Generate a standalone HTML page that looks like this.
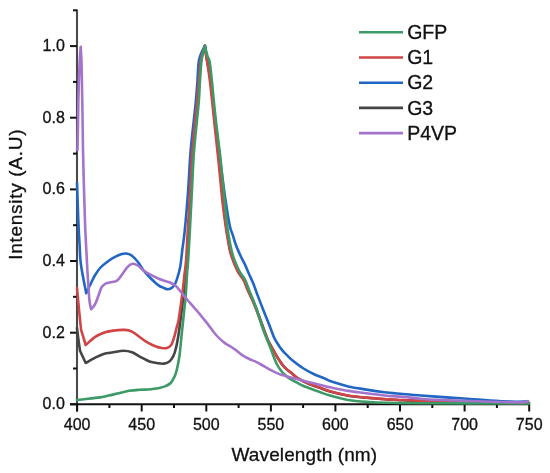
<!DOCTYPE html>
<html><head><meta charset="utf-8"><style>
html,body{margin:0;padding:0;background:#fff;}
svg{display:block;}
text{font-family:"Liberation Sans",Arial,sans-serif;fill:#111;stroke:#111;stroke-width:0.3px;}
.tk{font-size:16px;}
.lb{font-size:19px;}
.lg{font-size:19.5px;}
</style></head><body>
<svg width="550" height="473" viewBox="0 0 550 473">
<rect width="550" height="473" fill="#fff"/>
<line x1="77" y1="9.5" x2="77" y2="411.5" stroke="#4a4a4a" stroke-width="2.1"/>
<line x1="70" y1="404.2" x2="530" y2="404.2" stroke="#111" stroke-width="2"/>
<line x1="70" y1="404.3" x2="77" y2="404.3" stroke="#111" stroke-width="2"/>
<line x1="73" y1="368.5" x2="77" y2="368.5" stroke="#111" stroke-width="2"/>
<line x1="70" y1="332.7" x2="77" y2="332.7" stroke="#111" stroke-width="2"/>
<line x1="73" y1="296.8" x2="77" y2="296.8" stroke="#111" stroke-width="2"/>
<line x1="70" y1="261.0" x2="77" y2="261.0" stroke="#111" stroke-width="2"/>
<line x1="73" y1="225.2" x2="77" y2="225.2" stroke="#111" stroke-width="2"/>
<line x1="70" y1="189.4" x2="77" y2="189.4" stroke="#111" stroke-width="2"/>
<line x1="73" y1="153.6" x2="77" y2="153.6" stroke="#111" stroke-width="2"/>
<line x1="70" y1="117.7" x2="77" y2="117.7" stroke="#111" stroke-width="2"/>
<line x1="73" y1="81.9" x2="77" y2="81.9" stroke="#111" stroke-width="2"/>
<line x1="70" y1="46.1" x2="77" y2="46.1" stroke="#111" stroke-width="2"/>
<line x1="73" y1="10.3" x2="77" y2="10.3" stroke="#111" stroke-width="2"/>
<line x1="77.1" y1="404" x2="77.1" y2="411.5" stroke="#111" stroke-width="2"/>
<line x1="109.4" y1="404" x2="109.4" y2="408" stroke="#111" stroke-width="2"/>
<line x1="141.7" y1="404" x2="141.7" y2="411.5" stroke="#111" stroke-width="2"/>
<line x1="174.0" y1="404" x2="174.0" y2="408" stroke="#111" stroke-width="2"/>
<line x1="206.3" y1="404" x2="206.3" y2="411.5" stroke="#111" stroke-width="2"/>
<line x1="238.6" y1="404" x2="238.6" y2="408" stroke="#111" stroke-width="2"/>
<line x1="270.9" y1="404" x2="270.9" y2="411.5" stroke="#111" stroke-width="2"/>
<line x1="303.1" y1="404" x2="303.1" y2="408" stroke="#111" stroke-width="2"/>
<line x1="335.4" y1="404" x2="335.4" y2="411.5" stroke="#111" stroke-width="2"/>
<line x1="367.7" y1="404" x2="367.7" y2="408" stroke="#111" stroke-width="2"/>
<line x1="400.0" y1="404" x2="400.0" y2="411.5" stroke="#111" stroke-width="2"/>
<line x1="432.3" y1="404" x2="432.3" y2="408" stroke="#111" stroke-width="2"/>
<line x1="464.6" y1="404" x2="464.6" y2="411.5" stroke="#111" stroke-width="2"/>
<line x1="496.9" y1="404" x2="496.9" y2="408" stroke="#111" stroke-width="2"/>
<line x1="529.2" y1="404" x2="529.2" y2="411.5" stroke="#111" stroke-width="2"/>
<path d="M77.0,328.0 C77.2,330.0 78.0,336.2 78.5,340.0 C79.0,343.8 79.8,349.2 80.1,351.0 C81.0,353.0 84.8,361.0 85.7,363.0 C87.3,362.1 92.2,359.1 95.2,357.6 C98.2,356.1 100.6,354.8 103.6,353.9 C106.6,353.0 109.9,352.8 113.2,352.3 C116.5,351.8 120.2,350.8 123.3,350.8 C126.4,350.8 129.1,351.2 132.0,352.3 C134.9,353.4 137.8,355.6 140.7,357.1 C143.6,358.6 146.6,360.5 149.5,361.5 C152.4,362.5 155.8,362.9 158.2,363.3 C160.6,363.7 162.1,363.9 164.0,363.6 C165.9,363.3 167.9,362.6 169.4,361.4 C170.9,360.2 172.1,358.4 173.2,356.3 C174.3,354.2 175.0,352.1 175.8,348.7 C176.7,345.3 177.5,340.8 178.3,336.0 C179.1,331.2 179.7,326.0 180.5,320.0 C181.3,314.0 182.4,305.0 183.0,300.0 C183.6,295.0 183.9,294.0 184.3,290.0 C184.7,286.0 185.1,281.0 185.6,276.0 C186.1,271.0 186.7,267.3 187.2,260.0 C187.7,252.7 188.2,243.5 188.8,232.0 C189.4,220.5 190.3,204.7 191.0,191.0 C191.7,177.3 192.1,164.3 193.2,150.0 C194.3,135.7 196.6,116.3 197.6,105.0 C198.6,93.7 198.6,89.5 199.2,82.0 C199.8,74.5 200.2,66.0 201.2,60.0 C202.1,54.0 204.3,48.2 204.9,45.8 C205.2,47.8 205.9,52.3 206.8,58.0 C207.7,63.7 209.2,69.7 210.5,80.0 C211.8,90.3 213.4,106.7 214.8,120.0 C216.2,133.3 217.8,146.7 219.2,160.0 C220.6,173.3 221.9,189.2 223.0,200.0 C224.1,210.8 225.2,218.7 226.0,225.0 C226.8,231.3 227.3,233.5 228.0,237.7 C228.7,241.9 229.4,246.6 230.3,250.4 C231.2,254.2 232.1,257.0 233.5,260.6 C234.9,264.2 236.8,268.8 238.5,272.0 C240.2,275.2 242.2,277.0 243.8,280.0 C245.4,283.0 246.4,286.7 247.9,290.0 C249.4,293.3 251.1,296.7 252.6,300.0 C254.1,303.3 255.4,306.7 256.7,310.0 C258.0,313.3 259.3,316.7 260.5,320.0 C261.7,323.3 262.9,326.7 264.1,330.0 C265.3,333.3 266.4,336.8 267.9,340.0 C269.4,343.2 271.3,346.3 273.0,349.4 C274.7,352.4 276.1,355.3 278.0,358.3 C279.9,361.3 282.1,364.7 284.4,367.2 C286.7,369.7 289.7,371.6 292.0,373.5 C294.3,375.4 295.6,376.9 298.3,378.6 C301.0,380.3 304.6,382.0 308.0,383.5 C311.4,385.0 315.3,386.3 319.0,387.6 C322.7,388.9 325.1,390.1 330.0,391.5 C334.9,392.9 342.1,394.6 348.2,395.7 C354.3,396.8 360.3,397.2 366.4,397.8 C372.4,398.4 378.4,398.9 384.5,399.3 C390.6,399.7 396.6,399.9 402.7,400.2 C408.8,400.5 409.7,400.6 420.9,401.0 C432.1,401.4 452.0,402.0 470.0,402.4 C488.0,402.8 519.2,403.0 529.0,403.1" fill="none" stroke="#454545" stroke-width="2.6" stroke-linejoin="round" stroke-linecap="round"/>
<path d="M77.0,183.0 C77.2,189.2 77.9,209.7 78.3,220.0 C78.7,230.3 79.1,237.5 79.6,245.0 C80.0,252.5 79.9,257.0 81.0,265.0 C82.1,273.0 85.3,288.5 86.2,293.2 C86.9,291.7 89.1,287.0 90.6,284.0 C92.1,281.0 93.3,277.9 95.0,275.2 C96.7,272.4 98.5,269.7 100.5,267.5 C102.5,265.3 104.7,263.7 107.0,262.0 C109.3,260.3 112.0,258.5 114.5,257.2 C117.0,255.9 119.8,254.7 121.8,254.1 C123.8,253.5 124.6,253.3 126.2,253.5 C127.8,253.7 129.4,253.9 131.3,255.3 C133.2,256.7 135.8,259.3 137.8,261.8 C139.9,264.3 141.4,267.7 143.6,270.5 C145.8,273.3 148.5,276.1 150.9,278.5 C153.3,280.9 156.0,283.5 158.2,285.1 C160.4,286.7 162.3,287.3 164.0,288.0 C165.7,288.7 166.8,289.4 168.2,289.3 C169.6,289.2 171.3,288.2 172.5,287.2 C173.7,286.1 174.7,284.7 175.5,283.0 C176.3,281.3 176.8,279.7 177.6,277.0 C178.4,274.3 179.4,271.5 180.2,267.0 C181.0,262.5 181.6,255.8 182.3,250.0 C183.0,244.2 183.6,241.8 184.6,232.0 C185.6,222.2 187.1,204.7 188.1,191.0 C189.1,177.3 189.5,164.3 190.7,150.0 C191.9,135.7 194.4,116.3 195.5,105.0 C196.6,93.7 196.8,89.5 197.4,82.0 C198.0,74.5 197.9,65.8 199.1,59.8 C200.3,53.8 203.9,48.1 204.8,45.8 C205.1,47.5 205.4,50.3 206.3,56.0 C207.2,61.7 209.0,69.3 210.5,80.0 C212.0,90.7 213.6,106.7 215.2,120.0 C216.8,133.3 218.5,146.7 220.2,160.0 C221.9,173.3 223.9,189.2 225.5,200.0 C227.1,210.8 228.4,219.1 229.6,225.0 C230.8,230.9 231.7,231.8 232.8,235.2 C233.9,238.6 234.7,241.9 236.0,245.3 C237.3,248.7 238.9,252.3 240.4,255.5 C241.9,258.7 243.5,261.4 244.9,264.4 C246.3,267.4 247.3,270.1 248.7,273.3 C250.1,276.5 251.7,279.6 253.3,283.6 C254.9,287.6 256.6,292.6 258.3,297.1 C260.0,301.6 261.8,306.2 263.6,310.7 C265.4,315.2 267.2,319.7 269.0,324.2 C270.8,328.7 272.7,334.4 274.2,337.8 C275.7,341.2 277.1,342.8 278.2,344.5 C279.2,346.2 279.5,346.7 280.5,348.0 C281.5,349.3 282.8,351.0 284.1,352.4 C285.4,353.8 287.0,355.2 288.4,356.6 C289.8,358.0 290.2,358.7 292.6,360.6 C295.0,362.5 299.2,365.8 302.7,368.0 C306.2,370.2 310.0,372.3 313.6,374.0 C317.2,375.7 321.8,377.2 324.5,378.4 C327.2,379.6 326.1,379.7 330.0,381.0 C333.9,382.3 342.1,385.0 348.2,386.4 C354.3,387.8 360.3,388.6 366.4,389.6 C372.4,390.6 378.4,391.5 384.5,392.2 C390.6,392.9 396.6,393.4 402.7,394.0 C408.8,394.6 413.0,394.9 420.9,395.5 C428.8,396.1 441.8,397.0 450.0,397.6 C458.2,398.2 463.3,398.5 470.0,399.0 C476.7,399.5 483.3,400.2 490.0,400.6 C496.7,401.0 503.7,401.4 510.0,401.6 C516.3,401.8 525.0,401.6 528.0,401.6" fill="none" stroke="#2266c4" stroke-width="2.6" stroke-linejoin="round" stroke-linecap="round"/>
<path d="M77.0,288.0 C77.3,291.8 78.4,303.5 79.1,310.5 C79.8,317.5 80.8,326.6 81.1,329.8 C81.9,332.3 84.9,342.5 85.7,345.0 C87.3,343.6 92.2,338.9 95.2,336.9 C98.2,334.8 100.6,333.8 103.6,332.7 C106.6,331.6 109.7,331.1 113.2,330.6 C116.7,330.1 121.6,329.7 124.7,329.9 C127.8,330.1 129.6,330.5 132.0,331.6 C134.4,332.7 136.9,335.0 139.3,336.7 C141.7,338.4 143.8,340.2 146.5,341.8 C149.2,343.4 152.8,345.2 155.3,346.2 C157.9,347.2 159.9,347.7 161.8,348.0 C163.7,348.3 165.3,348.5 166.9,348.0 C168.5,347.5 170.0,346.9 171.3,344.9 C172.6,342.9 173.6,338.8 174.5,336.0 C175.4,333.2 175.8,330.7 176.5,328.0 C177.2,325.3 177.8,324.7 178.6,320.0 C179.4,315.3 180.8,305.0 181.5,300.0 C182.2,295.0 182.3,294.0 182.8,290.0 C183.3,286.0 183.8,281.0 184.3,276.0 C184.9,271.0 185.5,267.3 186.1,260.0 C186.7,252.7 187.0,243.5 187.7,232.0 C188.4,220.5 189.3,204.7 190.1,191.0 C190.9,177.3 191.3,164.3 192.4,150.0 C193.5,135.7 195.8,116.3 196.8,105.0 C197.9,93.7 198.0,89.5 198.7,82.0 C199.4,74.5 199.8,66.0 200.8,60.0 C201.8,54.0 204.2,48.2 204.9,45.8 C205.2,47.8 205.7,52.3 206.5,58.0 C207.3,63.7 208.5,69.7 209.8,80.0 C211.1,90.3 212.7,106.7 214.1,120.0 C215.5,133.3 217.0,146.7 218.4,160.0 C219.8,173.3 221.1,189.2 222.3,200.0 C223.5,210.8 224.6,218.7 225.5,225.0 C226.4,231.3 226.8,233.5 227.5,237.7 C228.2,241.9 228.9,246.6 229.8,250.4 C230.7,254.2 231.6,257.0 233.0,260.6 C234.4,264.2 236.2,268.8 238.0,272.0 C239.8,275.2 241.9,277.0 243.5,280.0 C245.1,283.0 246.1,286.7 247.6,290.0 C249.1,293.3 250.8,296.7 252.3,300.0 C253.8,303.3 255.1,306.7 256.4,310.0 C257.7,313.3 259.0,316.7 260.2,320.0 C261.4,323.3 262.6,326.7 263.8,330.0 C265.0,333.3 266.1,336.8 267.6,340.0 C269.1,343.2 271.0,346.2 272.7,349.2 C274.4,352.2 275.9,355.1 277.8,358.0 C279.7,360.9 281.9,364.4 284.2,366.9 C286.5,369.4 289.5,371.3 291.8,373.2 C294.1,375.1 295.4,376.6 298.1,378.3 C300.8,380.0 304.7,381.7 308.2,383.2 C311.7,384.7 315.5,386.0 319.1,387.3 C322.7,388.6 325.1,389.8 330.0,391.2 C334.9,392.6 342.1,394.4 348.2,395.5 C354.3,396.6 360.3,397.0 366.4,397.6 C372.4,398.2 378.4,398.7 384.5,399.1 C390.6,399.5 396.6,399.7 402.7,400.0 C408.8,400.3 409.7,400.5 420.9,400.9 C432.1,401.3 452.0,401.9 470.0,402.3 C488.0,402.7 519.2,402.9 529.0,403.0" fill="none" stroke="#d04545" stroke-width="2.6" stroke-linejoin="round" stroke-linecap="round"/>
<path d="M77.0,400.0 C78.8,399.8 84.2,399.2 88.0,398.8 C91.8,398.4 96.5,397.9 100.0,397.4 C103.5,396.9 105.8,396.2 108.7,395.6 C111.6,395.0 114.1,394.3 117.5,393.5 C120.9,392.7 125.5,391.4 129.1,390.8 C132.7,390.2 136.2,390.0 139.3,389.8 C142.5,389.6 145.6,389.7 148.0,389.5 C150.4,389.3 152.1,389.1 154.0,388.8 C155.9,388.6 157.4,388.4 159.3,388.0 C161.2,387.6 163.7,386.9 165.6,386.1 C167.5,385.3 169.2,384.6 170.7,383.0 C172.2,381.4 173.4,378.9 174.5,376.6 C175.6,374.3 176.2,372.6 177.0,369.0 C177.8,365.4 178.8,360.5 179.6,355.0 C180.3,349.5 180.9,341.8 181.5,336.0 C182.1,330.2 182.6,326.0 183.2,320.0 C183.8,314.0 184.8,305.0 185.3,300.0 C185.8,295.0 185.8,294.0 186.1,290.0 C186.4,286.0 186.6,281.0 186.9,276.0 C187.2,271.0 187.7,267.7 188.2,260.0 C188.7,252.3 189.3,241.5 189.9,230.0 C190.5,218.5 191.2,204.3 191.9,191.0 C192.6,177.7 193.0,164.3 194.1,150.0 C195.2,135.7 197.5,116.3 198.5,105.0 C199.5,93.7 199.4,89.5 199.9,82.0 C200.4,74.5 200.8,65.9 201.6,59.8 C202.4,53.7 204.3,48.0 204.9,45.6 C205.3,47.3 206.7,53.3 207.5,56.0 C208.3,58.7 209.0,58.0 209.7,62.0 C210.4,66.0 210.8,70.3 211.8,80.0 C212.8,89.7 214.3,106.7 215.8,120.0 C217.3,133.3 219.2,146.7 220.6,160.0 C222.0,173.3 223.4,189.2 224.5,200.0 C225.6,210.8 226.3,218.7 227.1,225.0 C227.8,231.3 228.3,233.5 229.0,237.7 C229.7,241.9 230.6,246.6 231.5,250.4 C232.4,254.2 233.3,257.0 234.7,260.6 C236.1,264.2 238.1,268.8 239.8,272.0 C241.6,275.2 243.7,277.0 245.2,280.0 C246.7,283.0 247.7,286.7 249.0,290.0 C250.3,293.3 251.9,296.7 253.2,300.0 C254.5,303.3 255.8,306.7 256.9,310.0 C258.0,313.3 258.9,316.7 260.0,320.0 C261.1,323.3 262.2,326.8 263.4,330.0 C264.5,333.2 265.6,335.8 266.9,339.0 C268.1,342.2 269.8,346.1 270.9,349.0 C272.0,351.9 272.5,353.8 273.6,356.5 C274.7,359.2 276.0,362.6 277.3,365.0 C278.6,367.4 279.9,369.2 281.3,371.0 C282.7,372.8 284.2,374.1 285.7,375.5 C287.2,376.9 288.8,378.1 290.5,379.2 C292.2,380.3 293.8,381.1 296.0,382.2 C298.2,383.3 301.5,385.1 303.5,386.0 C305.5,386.9 305.6,386.7 308.2,387.7 C310.8,388.7 315.5,390.5 319.1,391.8 C322.7,393.1 325.1,394.2 330.0,395.6 C334.9,397.0 342.1,399.0 348.2,400.0 C354.3,401.0 360.3,401.4 366.4,401.8 C372.4,402.2 375.6,402.5 384.5,402.7 C393.4,402.9 395.9,403.1 420.0,403.2 C444.1,403.3 510.8,403.4 529.0,403.4" fill="none" stroke="#3b9a66" stroke-width="2.6" stroke-linejoin="round" stroke-linecap="round"/>
<path d="M77.5,150.0 C77.6,145.8 77.8,134.2 78.0,125.0 C78.2,115.8 78.2,105.0 78.5,95.0 C78.8,85.0 79.1,73.0 79.5,65.0 C79.9,57.0 80.5,49.8 80.7,46.8 C80.8,49.3 81.3,56.5 81.5,62.0 C81.7,67.5 81.7,71.2 81.9,80.0 C82.1,88.8 82.3,103.3 82.5,115.0 C82.7,126.7 82.7,135.8 83.0,150.0 C83.3,164.2 83.9,186.7 84.3,200.0 C84.7,213.3 84.9,220.8 85.3,230.0 C85.7,239.2 86.1,246.7 86.6,255.0 C87.0,263.3 87.5,272.5 88.0,280.0 C88.5,287.5 88.9,295.1 89.4,300.0 C89.9,304.9 90.8,307.8 91.1,309.3 C91.8,308.5 93.8,306.5 95.0,304.3 C96.2,302.1 97.2,298.9 98.3,296.1 C99.4,293.3 100.3,289.4 101.6,287.3 C102.9,285.2 104.5,284.2 106.0,283.4 C107.5,282.6 108.6,282.8 110.4,282.3 C112.2,281.9 115.1,281.9 117.0,280.7 C118.9,279.5 120.0,277.2 121.8,274.9 C123.6,272.6 125.8,268.8 127.6,266.9 C129.4,265.0 131.0,263.9 132.7,263.7 C134.4,263.5 136.0,264.4 137.8,265.5 C139.6,266.6 141.4,268.9 143.6,270.5 C145.8,272.1 148.5,273.6 150.9,274.9 C153.3,276.2 156.0,277.5 158.2,278.5 C160.4,279.5 162.0,280.0 164.0,280.7 C166.0,281.4 168.1,281.6 170.0,282.5 C171.9,283.4 173.9,284.4 175.6,285.8 C177.3,287.2 178.8,289.4 180.0,290.8 C181.2,292.2 180.8,292.0 182.7,294.2 C184.5,296.4 188.3,300.9 191.1,304.2 C193.9,307.5 196.8,310.4 199.6,313.8 C202.4,317.2 205.2,320.8 208.0,324.4 C210.8,328.0 213.7,332.4 216.5,335.5 C219.3,338.6 222.1,341.0 224.9,343.1 C227.7,345.2 230.6,346.4 233.4,348.4 C236.2,350.3 239.0,352.9 241.8,354.8 C244.6,356.7 248.1,358.4 250.3,359.5 C252.5,360.6 253.5,360.6 255.1,361.4 C256.7,362.1 258.4,363.1 260.1,364.0 C261.8,364.9 263.5,365.9 265.2,366.9 C266.9,367.9 268.6,369.0 270.3,369.9 C272.0,370.8 273.7,371.6 275.4,372.4 C277.1,373.1 278.7,373.8 280.4,374.4 C282.1,375.0 283.6,375.3 285.5,375.9 C287.4,376.5 288.9,377.0 291.8,377.8 C294.7,378.6 299.1,379.6 302.7,380.5 C306.3,381.4 310.0,382.4 313.6,383.3 C317.2,384.2 321.8,385.3 324.5,386.0 C327.2,386.7 326.1,386.5 330.0,387.3 C333.9,388.1 342.1,389.9 348.2,390.9 C354.3,391.9 360.3,392.5 366.4,393.3 C372.4,394.1 378.4,394.9 384.5,395.5 C390.6,396.1 396.6,396.4 402.7,396.9 C408.8,397.4 416.3,398.2 420.9,398.7 C425.4,399.1 421.8,399.2 430.0,399.6 C438.2,400.0 456.7,400.6 470.0,401.0 C483.3,401.4 501.0,402.1 510.0,402.3 C519.0,402.5 521.0,402.4 524.0,402.2 C527.0,402.0 527.3,401.2 528.0,401.0" fill="none" stroke="#a474cc" stroke-width="2.6" stroke-linejoin="round" stroke-linecap="round"/>
<text x="64.8" y="409.3" text-anchor="end" class="tk">0.0</text>
<text x="64.8" y="337.7" text-anchor="end" class="tk">0.2</text>
<text x="64.8" y="266.0" text-anchor="end" class="tk">0.4</text>
<text x="64.8" y="194.4" text-anchor="end" class="tk">0.6</text>
<text x="64.8" y="122.7" text-anchor="end" class="tk">0.8</text>
<text x="64.8" y="51.1" text-anchor="end" class="tk">1.0</text>
<text x="77.1" y="430.4" text-anchor="middle" class="tk">400</text>
<text x="141.7" y="430.4" text-anchor="middle" class="tk">450</text>
<text x="206.3" y="430.4" text-anchor="middle" class="tk">500</text>
<text x="270.9" y="430.4" text-anchor="middle" class="tk">550</text>
<text x="335.4" y="430.4" text-anchor="middle" class="tk">600</text>
<text x="400.0" y="430.4" text-anchor="middle" class="tk">650</text>
<text x="464.6" y="430.4" text-anchor="middle" class="tk">700</text>
<text x="529.2" y="430.4" text-anchor="middle" class="tk">750</text>
<text x="231.5" y="461" class="lb" style="letter-spacing:0.12px">Wavelength (nm)</text>
<text transform="translate(21.9,259.7) rotate(-90)" x="0" y="0" class="lb" style="letter-spacing:0.7px">Intensity (A.U)</text>
<line x1="359" y1="32.3" x2="403" y2="32.3" stroke="#3b9a66" stroke-width="2.6"/>
<text x="407.2" y="38.9" class="lg">GFP</text>
<line x1="359" y1="57.5" x2="403" y2="57.5" stroke="#d04545" stroke-width="2.6"/>
<text x="407.2" y="64.1" class="lg">G1</text>
<line x1="359" y1="82.7" x2="403" y2="82.7" stroke="#2266c4" stroke-width="2.6"/>
<text x="407.2" y="89.3" class="lg">G2</text>
<line x1="359" y1="107.9" x2="403" y2="107.9" stroke="#454545" stroke-width="2.6"/>
<text x="407.2" y="114.5" class="lg">G3</text>
<line x1="359" y1="133.1" x2="403" y2="133.1" stroke="#a474cc" stroke-width="2.6"/>
<text x="407.2" y="139.7" class="lg">P4VP</text>
</svg>
</body></html>
